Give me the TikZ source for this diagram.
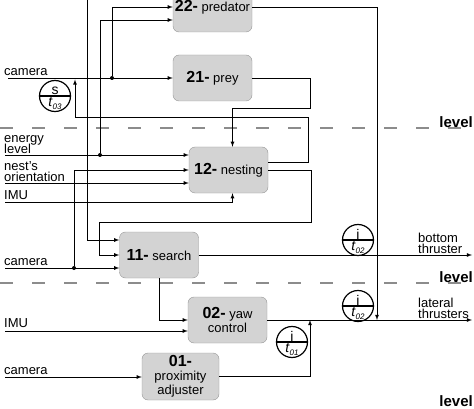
\documentclass[tikz,border=0pt]{standalone}
\usepackage{fontspec}
\setmainfont{Liberation Sans}
\usetikzlibrary{calc}

\definecolor{boxfill}{RGB}{211,211,211}
\definecolor{boxline}{RGB}{150,150,150}
\definecolor{levelline}{RGB}{140,140,140}
\newcommand{\behnum}[1]{{\fontsize{16}{16}\selectfont\bfseries #1-}}
\newcommand{\tsub}[1]{\textit{t}\raisebox{-3pt}{\fontsize{8}{8}\selectfont\itshape #1}}

\begin{document}
\begin{tikzpicture}[x=1pt, y=-1pt,
	behav/.style={draw=boxline, fill=boxfill, rounded corners=6pt, minimum width=79pt, minimum height=46pt, align=center, inner sep=1pt, font=\fontsize{13}{14}\selectfont},
	wire/.style={arrows={-latex}, line width=0.8pt},
	junct/.style={circle, fill, inner sep=0pt, minimum size=4pt},
	inhib/.style={draw, circle, line width=1.2pt, minimum size=31pt, inner sep=0pt},
	intext/.style={inner sep=0pt, font=\fontsize{14}{14}\selectfont},
	lbl/.style={anchor=south west, inner sep=0pt, align=left, font={\fontsize{13}{11.5}\selectfont\lineskiplimit=-5pt\relax}},
	lvl/.style={anchor=base east, inner sep=0pt, font=\fontsize{15}{15}\selectfont\bfseries},
	levelsep/.style={levelline, line width=1.3pt, dash pattern=on 13pt off 19pt}]

	\clip (0,0) rectangle (474,409);

	% level separators
	\draw [levelsep] (0,128) -- (463,128);
	\draw [levelsep] (0,283) -- (463,283);
	\node [lvl] (lvlA) at (473,128) {level};
	\node [lvl] (lvlB) at (473,282) {level};
	\node [lvl] (lvlC) at (473,406) {level};

	% behaviours
	\node [behav, minimum height=50pt] (pred) at (212.5,7) {\behnum{22} predator};
	\node [behav] (prey) at (212.5,78) {\behnum{21} prey};
	\node [behav] (nest) at (228.5,170) {\behnum{12} nesting};
	\node [behav] (search) at (159,255) {\behnum{11} search};
	\node [behav] (yaw) at (227.5,320) {\behnum{02} yaw\\control};
	\node [behav, minimum width=77pt, minimum height=47pt] (prox) at (180.5,376.5) {\behnum{01}\\proximity\\adjuster};

	% inputs and outputs
	\coordinate (camT) at (8,78);
	\coordinate (energy) at (5,155);
	\coordinate (orient) at (5,183);
	\coordinate (imuM) at (5,202);
	\coordinate (camM) at (5,268);
	\coordinate (imuB) at (5,331);
	\coordinate (camB) at (5,377);
	\coordinate (topIn) at (87,-5);
	\coordinate (supp) at (75,79.5);
	\coordinate (bottomOut) at (472,255);
	\coordinate (lateralOut) at (472,320);

	\node [lbl] (camTl) at (4,76) {camera};
	\node [lbl] (energyl) at (4,154) {energy\\level};
	\node [lbl] (orientl) at (4,182) {nest's\\orientation};
	\node [lbl] (imuMl) at (4,200) {IMU};
	\node [lbl] (camMl) at (4,266) {camera};
	\node [lbl] (imuBl) at (4,328) {IMU};
	\node [lbl] (camBl) at (4,375) {camera};
	\node [lbl] (bottoml) at (418,254) {bottom\\thruster};
	\node [lbl] (laterall) at (418,319) {lateral\\thrusters};

	% junctions
	\node [junct] (jcam) at (112,78) {};
	\node [junct] (jen) at (100,155) {};
	\node [junct] (jcamM) at (74,268) {};

	% wires
	\draw [wire] (camT) -- (prey.west);
	\draw [wire] (jcam) |- (pred.west);
	\draw [wire] (energy) -- (energy -| nest.west);
	\draw [wire] (jen) |- ([yshift=-13pt]pred.west);
	\draw [wire] (orient) -- (orient -| nest.west);
	\draw [wire] (jcamM) |- (nest.west);
	\draw [wire] (imuM) -| ([xshift=4pt]nest.south);
	\draw [wire] (camM) -- (camM -| search.west);
	\draw [wire] (topIn) |- ([yshift=15pt]search.west);
	\draw [wire] (nest.east) -| (311,222) -| ([xshift=-20pt]search.west) -- (search.west);
	\draw [wire] ([yshift=8pt]nest.east) -| (308,117) -| (supp);
	\draw [wire] (prey.east) -| (310,108) -| ([xshift=4pt]nest.north);
	\draw [wire] (pred.east) -| (377,320);
	\draw [wire] (search.east) -- (bottomOut);
	\draw [wire] (search.south) |- (yaw.west);
	\draw [wire] (imuB) -- (imuB -| yaw.west);
	\draw [wire] (yaw.east) -- (lateralOut);
	\draw [wire] (camB) -- (camB -| prox.west);
	\draw [wire] (prox.east) -| (310,320);

	% suppressor and inhibitors
	\node [inhib] (supCam) at (55,96) {};
	\draw [line width=1.2pt] (supCam.west) -- (supCam.east);
	\node [intext] (supCamA) at ([yshift=5pt]supCam.center) {s};
	\node [intext] (supCamB) at ([yshift=-8pt]supCam.center) {\tsub{03}};

	\node [inhib] (inhBot) at (358,240) {};
	\draw [line width=1.2pt] (inhBot.west) -- (inhBot.east);
	\node [intext] (inhBotA) at ([yshift=6pt]inhBot.center) {i};
	\node [intext] (inhBotB) at ([yshift=-8pt]inhBot.center) {\tsub{02}};

	\node [inhib] (inhLat) at (358,306) {};
	\draw [line width=1.2pt] (inhLat.west) -- (inhLat.east);
	\node [intext] (inhLatA) at ([yshift=6pt]inhLat.center) {i};
	\node [intext] (inhLatB) at ([yshift=-8pt]inhLat.center) {\tsub{02}};

	\node [inhib] (inhYaw) at (292,342) {};
	\draw [line width=1.2pt] (inhYaw.west) -- (inhYaw.east);
	\node [intext] (inhYawA) at ([yshift=6pt]inhYaw.center) {i};
	\node [intext] (inhYawB) at ([yshift=-8pt]inhYaw.center) {\tsub{01}};

\end{tikzpicture}
\end{document}
